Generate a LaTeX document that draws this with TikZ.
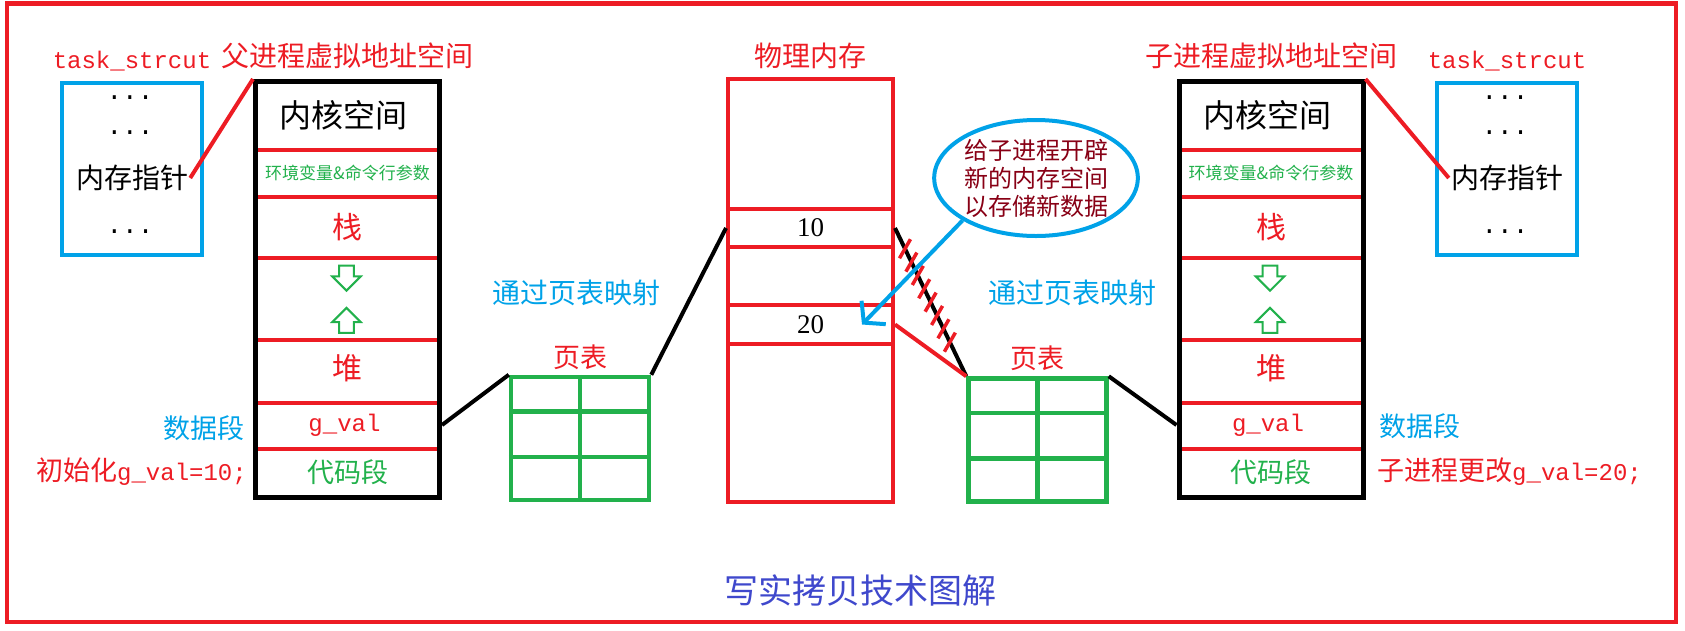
\documentclass[tikz,border=0pt]{standalone}
\usepackage{fontspec}
\setmainfont{Noto Sans CJK SC}
\newfontfamily\codefont{Liberation Mono}
\newfontfamily\numfont{Liberation Serif}
\usepackage{tikz}
\usetikzlibrary{calc, shapes, positioning, arrows.meta}

\definecolor{pred}{HTML}{ED1C24}
\definecolor{pblue}{HTML}{00A2E8}
\definecolor{pgreen}{HTML}{22B14C}
\definecolor{pdark}{HTML}{880015}
\definecolor{pindigo}{HTML}{3F48CC}

\begin{document}
\begin{tikzpicture}[
  x=1pt, y=-1pt,
  inner sep=0pt,
  txt/.style={font=\fontsize{#1}{#1}\selectfont},
  mono/.style={font=\codefont\fontsize{#1}{#1}\selectfont},
  vmbox/.style={draw=black, line width=5pt, minimum width=184pt, minimum height=416pt},
  taskbox/.style={draw=pblue, line width=4.5pt, minimum width=140pt, minimum height=172pt},
  pagetab/.style={draw=pgreen, line width=4.5pt, minimum width=138pt, minimum height=123pt},
  memrow/.style={draw=pred, line width=4pt, minimum width=165pt, minimum height=#1},
  growarrow/.style={
    single arrow,
    draw=pgreen,
    line width=2pt,
    text width=12.6pt, text height=12.6pt, text depth=0pt,
    minimum height=25pt,
    single arrow head extend=7pt,
    shape border rotate=#1
    },
  conn/.style={line width=4pt},
  crossmark/.style={draw=pred, line width=3.5pt}
]
\useasboundingbox (0,0) rectangle (1685,630);

% Outer frame
\draw[pred, line width=4.5pt] (7,3.7) rectangle (1676,622);

% Both address spaces
\foreach \side/\cx/\tx/\vmname in {p/347.5/132/父进程虚拟地址空间, c/1271/1507/子进程虚拟地址空间}{
  \node[vmbox] (\side vm) at (\cx,289.5) {};
  \node[txt=28, text=pred, above=10pt of \side vm] (\side vmname) {\vmname};
  \foreach \ry in {150,197,258,340,403,449}
    \draw[pred, line width=4pt] (\cx-89.5,\ry) -- (\cx+89.5,\ry);
  \node[txt=32] (\side kernel) at (\cx-4,115) {内核空间};
  \node[txt=17, text=pgreen] (\side env) at (\cx,173) {环境变量\&命令行参数};
  \node[txt=30, text=pred] (\side stack) at (\cx,227) {栈};
  \node[growarrow=270] (\side down) at (\cx-1,274.5) {};
  \node[growarrow=90] (\side up) at (\cx-1,324) {};
  \node[txt=30, text=pred] (\side heap) at (\cx,368) {堆};
  \node[mono=24, text=pred] (\side gval) at (\cx-3,425) {g\_val};
  \node[txt=27, text=pgreen] (\side code) at (\cx,472) {代码段};

  % task_struct box
  \node[taskbox] (\side task) at (\tx,169) {};
  \node[mono=24, text=pred, above=9pt of \side task] (\side name) {task\_strcut};
  \node[mono=26] (\side dotsa) at (\tx-2,98) {...};
  \node[mono=26] (\side dotsb) at (\tx-2,133) {...};
  \node[txt=28, inner sep=2pt] (\side ptr) at (\tx,178) {内存指针};
  \node[mono=26] (\side dotsc) at (\tx-2,232) {...};
}

% Side labels
\node[txt=27, text=pblue, anchor=east] (pdata) at (245,428) {数据段};
\node[text=pred, anchor=east] (pinit) at (247,472)
  {{\fontsize{27}{27}\selectfont 初始化}{\codefont\fontsize{24}{24}\selectfont g\_val=10;}};
\node[txt=27, text=pblue, anchor=west] (cdata) at (1379,426) {数据段};
\node[text=pred, anchor=west] (cset) at (1377,472)
  {{\fontsize{27}{27}\selectfont 子进程更改}{\codefont\fontsize{24}{24}\selectfont g\_val=20;}};

% Page tables
\node[pagetab] (ppt) at (580,438.5) {};
\node[pagetab] (cpt) at (1037.5,440) {};
\foreach \tab in {ppt,cpt}{
  \draw[pgreen, line width=4.5pt] (\tab.north) -- (\tab.south);
  \foreach \f in {.29,.645}
    \draw[pgreen, line width=4.5pt] ($(\tab.north west)!\f!(\tab.south west)$) -- ($(\tab.north east)!\f!(\tab.south east)$);
  \node[txt=27, text=pred, above=5pt of \tab] (\tab label) {页表};
}
\node[txt=28, text=pblue] (pmap) at (576,293) {通过页表映射};
\node[txt=28, text=pblue] (cmap) at (1072,293) {通过页表映射};

% Physical memory
\node[memrow=423pt] (phys) at (810.5,290.5) {};
\node[memrow=38pt, font=\numfont\fontsize{27}{27}\selectfont] (m10) at (810.5,228) {10};
\node[memrow=39pt, font=\numfont\fontsize{27}{27}\selectfont] (m20) at (810.5,324.5) {20};
\node[txt=28, text=pred, above=8pt of phys] (physname) {物理内存};

% Note
\node[ellipse, draw=pblue, line width=4pt, minimum width=199pt, minimum height=116pt,
  text=pdark, align=center, font=\fontsize{24}{28}\selectfont] (note) at (1036,178)
  {给子进程开辟\\新的内存空间\\以存储新数据};

% Connectors, parent side
\draw[pred, conn] (pptr.east) -- (pvm.north west);
\draw[conn] (pvm.east |- pgval) -- (ppt.north west);
\draw[conn] (ppt.north east) -- (m10.west);

% Connectors, child side
\draw[conn] (m10.east) -- (cpt.north west);
\foreach \t in {0.14,0.23,...,0.78}
  \draw[crossmark] ($(m10.east)!\t!(cpt.north west)$) +(60:11pt) -- +(240:11pt);
\draw[pred, conn] (m20.east) -- (cpt.north west);
\draw[conn] (cpt.north east) -- (cvm.west |- cgval);
\draw[pred, conn] (cvm.north east) -- (cptr.west);

\coordinate (newpage) at ($(m20.east)+(-33,0)$);
\draw[pblue, conn, -{Straight Barb[angle=100:22pt]}] (note.210) -- (newpage);

% Title
\node[txt=34, text=pindigo] (title) at (860,590) {写实拷贝技术图解};

\end{tikzpicture}
\end{document}
